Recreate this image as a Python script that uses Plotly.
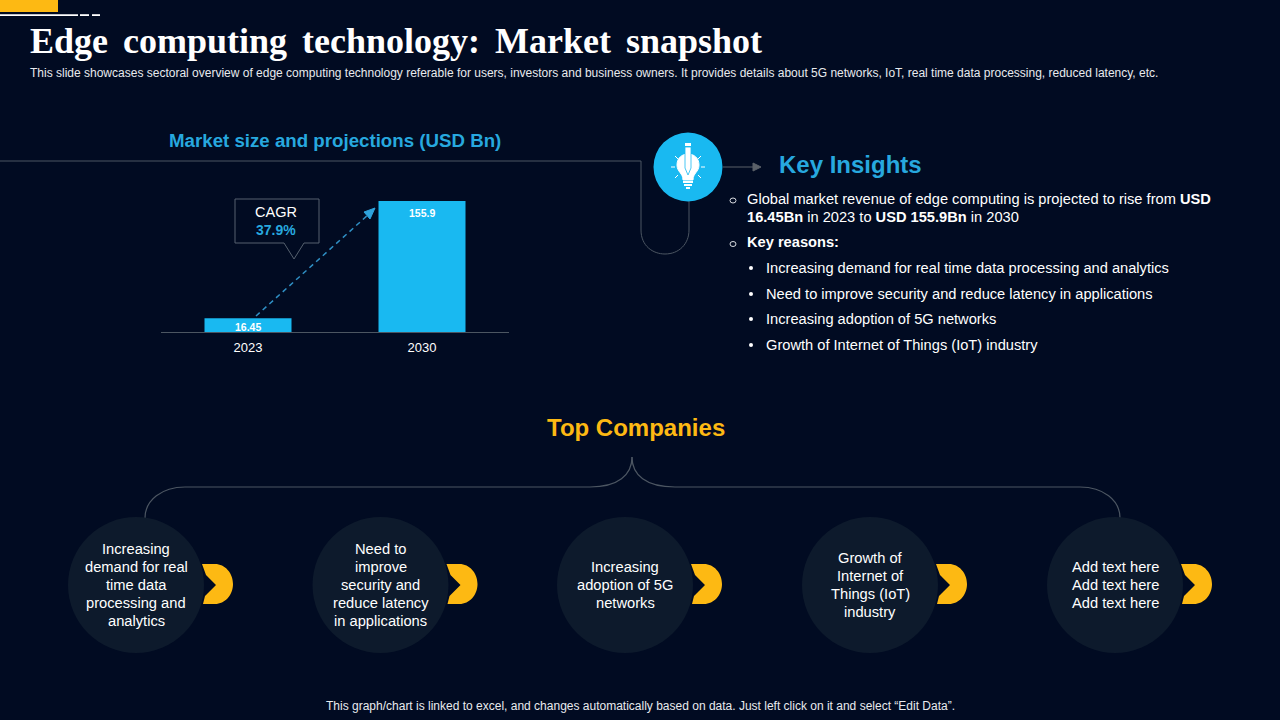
import plotly.graph_objects as go

# chart data
years = ["2023", "2030"]
market_size = [16.45, 155.9]
market_labels = ["16.45", "155.9"]

title = "Edge computing technology: Market snapshot"
subtitle = ("This slide showcases sectoral overview of edge computing technology referable for users, investors and "
            "business owners. It provides details about 5G networks, IoT, real time data processing, reduced latency, etc.")
footer = "This graph/chart is linked to excel, and changes automatically based on data. Just left click on it and select “Edit Data”."

insight_lines = [
    "Global market revenue of edge computing is projected to rise from <b>USD</b>",
    "<b>16.45Bn</b> in 2023 to <b>USD 155.9Bn</b> in 2030",
    "<b>Key reasons:</b>",
]
reasons = [
    "Increasing demand for real time data processing and analytics",
    "Need to improve security and reduce latency in applications",
    "Increasing adoption of 5G networks",
    "Growth of Internet of Things (IoT) industry",
]
companies = [
    ["Increasing", "demand for real", "time data", "processing and", "analytics"],
    ["Need to", "improve", "security and", "reduce latency", "in applications"],
    ["Increasing", "adoption of 5G", "networks"],
    ["Growth of", "Internet of", "Things (IoT)", "industry"],
    ["Add text here", "Add text here", "Add text here"],
]

BG = "#010B22"
CYAN = "#19B9F1"
HEAD = "#27A8DF"
YELLOW = "#FDB913"
GREY = "#4C5662"
DISC = "#0D1A2C"
SANS = "Liberation Sans"

shapes = []
notes = []


def rect(x0, y0, x1, y1, color):
    shapes.append(dict(type="rect", xref="x2", yref="y2", x0=x0, y0=y0, x1=x1, y1=y1,
                       fillcolor=color, line_width=0))


def circle(cx, cy, r, color):
    shapes.append(dict(type="circle", xref="x2", yref="y2", x0=cx - r, y0=cy - r, x1=cx + r, y1=cy + r,
                       fillcolor=color, line_width=0))


def path(d, color=GREY, width=1, fill=None, dash=None):
    shapes.append(dict(type="path", xref="x2", yref="y2", path=d,
                       fillcolor=fill if fill else "rgba(0,0,0,0)",
                       line=dict(color=color, width=width, dash=dash)))


def text(x, y, s, size=14.5, color="#FFFFFF", anchor="left", family=SANS):
    notes.append(dict(xref="x2", yref="y2", x=x, y=y, text=s, showarrow=False, xanchor=anchor, yanchor="middle",
                      font=dict(family=family, size=size, color=color), borderpad=0, borderwidth=0))


# top corner decoration
rect(0, 0, 58, 12, YELLOW)
rect(0, 14.2, 78, 16, "#FFFFFF")
rect(80, 14.2, 89, 16, "#FFFFFF")
rect(92, 14.2, 100, 16, "#FFFFFF")

text(30, 40.5, "<b>" + title.replace(" ", "\u2006 ") + "</b>", size=36, family="Liberation Serif")
text(30, 72.5, subtitle, size=12, color="#E8EAEE")

# left panel
text(335, 140.5, "<b>Market size and projections (USD Bn)</b>", size=18.7, color=HEAD, anchor="center")
path("M 0 161 L 641 161 L 641 230 C 641 246 653 254 665 254 C 679 254 689 244 689 230 L 689 200")

# CAGR callout
path("M 235 199 L 319 199 L 319 243 L 304 243 L 294 259 L 284 243 L 235 243 Z", color="#56616E")
text(276, 212, "CAGR", size=14.5, anchor="center")
text(276, 230, "<b>37.9%</b>", size=14, color=HEAD, anchor="center")

# dashed growth arrow
path("M 256 316 L 369 214", color="#2F8FC4", width=1.5, dash="5px,4px")
path("M 375 208 L 370 219 L 364 212 Z", color="#2FA3DC", fill="#2FA3DC")

# key insights icon
path("M 723 167 L 755 167", color="#5A6068")
path("M 761 167 L 753 163 L 753 171 Z", color="#5A6068", fill="#5A6068")
circle(688, 167, 34.5, CYAN)
for d in ["M 671 167 L 675 167", "M 701 167 L 705 167", "M 675 156 L 678 159", "M 701 156 L 698 159",
          "M 675 178 L 678 175", "M 701 178 L 698 175"]:
    path(d, color="#FFFFFF", width=1)
path("M 683 180 C 683 173 677 172 677 165 C 677 158 682 154 688 154 C 694 154 699 158 699 165 "
     "C 699 172 693 173 693 180 Z", color="#FFFFFF", fill="#FFFFFF")
rect(683, 181, 693, 183, "#FFFFFF")
rect(684, 184, 692, 186, "#FFFFFF")
rect(686, 187, 690, 189, "#FFFFFF")
rect(685, 143, 691, 146, "#FFFFFF")
path("M 685 147 L 691 147 L 691 168 L 688 175 L 685 168 Z", color=CYAN, fill="#FFFFFF", width=0.8)

text(779, 164.5, "<b>Key Insights</b>", size=24, color=HEAD)

# key insight text
for y, line in zip([199, 217, 242], insight_lines):
    text(747, y, line, size=14.65)
for y in [200.5, 244]:
    shapes.append(dict(type="circle", xref="x2", yref="y2", x0=730, y0=y - 2.5, x1=736, y1=y + 2.5,
                       fillcolor="rgba(0,0,0,0)", line=dict(color="#D8DBE0", width=1)))
for y, line in zip([268, 294, 319, 345], reasons):
    circle(751, y, 2, "#FFFFFF")
    text(766, y, line, size=14.65)

# top companies
text(636, 427.5, "<b>Top Companies</b>", size=24, color=YELLOW, anchor="center")
path("M 632 457 C 632 475 618 487 590 487 L 185 487 C 162 487 145 500 145 518", width=1.2)
path("M 632 457 C 632 475 646 487 675 487 L 1080 487 C 1103 487 1120 500 1120 518", width=1.2)

centers = [136, 380.5, 625, 870, 1115]
for cx, lines in zip(centers, companies):
    circle(cx, 585, 68, DISC)
    dx = cx - 136
    path(f"M {202 + dx} 564 L {215 + dx} 564 C {225 + dx} 564 {233 + dx} 573 {233 + dx} 584 "
         f"C {233 + dx} 595 {225 + dx} 604 {215 + dx} 604 L {203 + dx} 604 L {205 + dx} 596 "
         f"L {216 + dx} 585 L {206 + dx} 575 Z",
         color=YELLOW, fill=YELLOW, width=0)
    for i, line in enumerate(lines):
        text(cx, 585 + (i - (len(lines) - 1) / 2) * 17.8, line, size=14.7, anchor="center")

text(640, 706, footer, size=12, color="#E8EAEE", anchor="center")

fig = go.Figure()
fig.add_trace(go.Bar(x=years, y=market_size, width=0.5, marker_color=CYAN, marker_line_width=0))
# empty trace, keeps the pixel axes alive for shapes and text
fig.add_trace(go.Scatter(x=[], y=[], xaxis="x2", yaxis="y2"))

# bar labels sit at the top of each bar, x is the category index ("2023" would read as a number)
for i, (value, label, shift) in enumerate(zip(market_size, market_labels, [-1, -4])):
    notes.append(dict(xref="x", yref="y", x=i, y=value, text=f"<b>{label}</b>", showarrow=False, yanchor="top",
                      yshift=shift, font=dict(family=SANS, size=10.5, color="#FFFFFF")))

fig.update_layout(
    width=1280, height=720, showlegend=False,
    margin=dict(l=0, r=0, t=0, b=0, pad=0),
    paper_bgcolor=BG, plot_bgcolor="rgba(0,0,0,0)",
    xaxis=dict(domain=[161 / 1280, 509 / 1280], type="category", range=[-0.5, 1.5], showgrid=False,
               showline=True, linecolor=GREY, linewidth=1, ticks="outside", ticklen=3, tickcolor="rgba(0,0,0,0)",
               tickfont=dict(family=SANS, size=13, color="#FFFFFF"), anchor="y"),
    yaxis=dict(domain=[(720 - 332) / 720, (720 - 201) / 720], range=[0, 155.9], visible=False, anchor="x"),
    xaxis2=dict(domain=[0, 1], range=[0, 1280], visible=False, anchor="y2"),
    yaxis2=dict(domain=[0, 1], range=[720, 0], visible=False, anchor="x2"),
    shapes=shapes, annotations=notes,
)

fig.write_html("out.html", config=dict(displayModeBar=False), post_script="document.body.style.margin='0';")
